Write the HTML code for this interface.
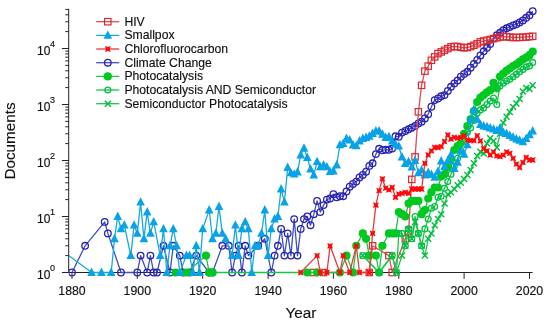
<!DOCTYPE html>
<html><head><meta charset="utf-8"><title>Documents per year</title>
<style>html,body{margin:0;padding:0;background:#fff}svg{display:block;filter:blur(0.4px)}</style></head>
<body>
<svg width="550" height="324" viewBox="0 0 550 324" font-family="Liberation Sans, Arial, sans-serif">
<rect width="550" height="324" fill="#fff"/>
<defs><clipPath id="cp"><rect x="68.7" y="0" width="482" height="280"/></clipPath></defs>
<g stroke="#222" stroke-width="1" fill="none">
<path d="M68.7,8.9V272.5"/><path d="M68.7,272.5H532.6"/>
<path d="M72.0,272.5v6.3"/><path d="M137.3,272.5v6.3"/><path d="M202.7,272.5v6.3"/><path d="M268.1,272.5v6.3"/><path d="M333.4,272.5v6.3"/><path d="M398.8,272.5v6.3"/><path d="M464.1,272.5v6.3"/><path d="M529.5,272.5v6.3"/><path d="M68.7,272.5h-6.8"/><path d="M68.7,255.6h-3.4"/><path d="M68.7,245.8h-3.4"/><path d="M68.7,238.8h-3.4"/><path d="M68.7,233.4h-3.4"/><path d="M68.7,228.9h-3.4"/><path d="M68.7,225.2h-3.4"/><path d="M68.7,221.9h-3.4"/><path d="M68.7,219.1h-3.4"/><path d="M68.7,216.5h-6.8"/><path d="M68.7,199.6h-3.4"/><path d="M68.7,189.8h-3.4"/><path d="M68.7,182.8h-3.4"/><path d="M68.7,177.4h-3.4"/><path d="M68.7,172.9h-3.4"/><path d="M68.7,169.2h-3.4"/><path d="M68.7,165.9h-3.4"/><path d="M68.7,163.1h-3.4"/><path d="M68.7,160.5h-6.8"/><path d="M68.7,143.6h-3.4"/><path d="M68.7,133.8h-3.4"/><path d="M68.7,126.8h-3.4"/><path d="M68.7,121.4h-3.4"/><path d="M68.7,116.9h-3.4"/><path d="M68.7,113.2h-3.4"/><path d="M68.7,109.9h-3.4"/><path d="M68.7,107.1h-3.4"/><path d="M68.7,104.5h-6.8"/><path d="M68.7,87.6h-3.4"/><path d="M68.7,77.8h-3.4"/><path d="M68.7,70.8h-3.4"/><path d="M68.7,65.4h-3.4"/><path d="M68.7,60.9h-3.4"/><path d="M68.7,57.2h-3.4"/><path d="M68.7,53.9h-3.4"/><path d="M68.7,51.1h-3.4"/><path d="M68.7,48.5h-6.8"/><path d="M68.7,31.6h-3.4"/><path d="M68.7,21.8h-3.4"/><path d="M68.7,14.8h-3.4"/><path d="M68.7,9.4h-3.4"/></g>
<g font-size="12.3" fill="#111" stroke="#111" stroke-width="0.15" text-anchor="middle">
<text x="72.0" y="295.2">1880</text><text x="137.3" y="295.2">1900</text><text x="202.7" y="295.2">1920</text><text x="268.1" y="295.2">1940</text><text x="333.4" y="295.2">1960</text><text x="398.8" y="295.2">1980</text><text x="464.1" y="295.2">2000</text><text x="529.5" y="295.2">2020</text></g>
<g font-size="12" fill="#111" stroke="#111" stroke-width="0.15">
<text x="37" y="279.3">10<tspan dy="-8.6" dx="-0.3" font-size="9">0</tspan></text><text x="37" y="223.3">10<tspan dy="-8.6" dx="-0.3" font-size="9">1</tspan></text><text x="37" y="167.3">10<tspan dy="-8.6" dx="-0.3" font-size="9">2</tspan></text><text x="37" y="111.3">10<tspan dy="-8.6" dx="-0.3" font-size="9">3</tspan></text><text x="37" y="55.3">10<tspan dy="-8.6" dx="-0.3" font-size="9">4</tspan></text></g>
<text x="301" y="318" font-size="15.3" fill="#111" stroke="#111" stroke-width="0.15" text-anchor="middle">Year</text>
<text transform="translate(15.2,141) rotate(-90)" font-size="15.25" fill="#111" stroke="#111" stroke-width="0.15" text-anchor="middle">Documents</text>
<g clip-path="url(#cp)">
<polyline points="72.0,272.5 85.1,245.8 104.7,221.9 107.9,233.4 121.0,272.5 137.3,272.5 140.6,255.6 147.2,272.5 150.4,255.6 153.7,272.5 157.0,272.5 163.5,245.8 170.0,272.5 173.3,245.8 179.8,255.6 183.1,272.5 189.6,272.5 196.2,255.6 209.2,272.5 212.5,272.5 222.3,245.8 228.8,245.8 232.1,272.5 235.4,255.6 238.6,245.8 241.9,272.5 245.2,245.8 248.4,255.6 258.2,245.8 264.8,238.8 271.3,272.5 274.6,255.6 277.9,245.8 281.1,228.9 284.4,255.6 287.7,233.4 290.9,255.6 294.2,219.1 297.5,255.6 300.7,228.9 304.0,219.1 307.3,216.5 310.5,225.2 313.8,214.2 317.1,200.9 320.3,212.1 323.6,205.1 326.9,199.6 330.1,198.5 333.4,194.2 336.7,197.3 339.9,196.2 343.2,196.2 346.5,191.5 349.7,186.7 353.0,184.0 356.3,181.6 359.5,177.4 362.8,175.0 366.1,171.7 369.3,165.9 372.6,163.3 375.9,154.1 379.1,148.8 382.4,150.2 385.7,149.8 388.9,149.8 392.2,148.5 395.5,136.3 398.8,136.8 402.0,132.6 405.3,131.0 408.6,129.3 411.8,127.7 415.1,125.9 418.4,123.4 421.6,121.8 424.9,118.4 428.2,114.2 431.4,106.7 434.7,100.1 438.0,98.5 441.2,96.3 444.5,95.1 447.8,90.9 451.0,86.8 454.3,83.4 457.6,80.5 460.8,76.7 464.1,74.0 467.4,71.8 470.6,67.7 473.9,63.9 477.2,59.9 480.4,55.5 483.7,51.3 487.0,47.8 490.2,44.1 493.5,38.6 496.8,35.3 500.0,32.8 503.3,30.3 506.6,28.3 509.8,27.0 513.1,25.4 516.4,24.2 519.6,22.4 522.9,20.4 526.2,17.8 529.5,15.3 532.7,11.2" fill="none" stroke="#3c50c0" stroke-width="1.3" stroke-linejoin="round"/>
<circle cx="72.0" cy="272.5" r="3.3" fill="none" stroke="#2a22b4" stroke-width="1.3"/><circle cx="85.1" cy="245.8" r="3.3" fill="none" stroke="#2a22b4" stroke-width="1.3"/><circle cx="104.7" cy="221.9" r="3.3" fill="none" stroke="#2a22b4" stroke-width="1.3"/><circle cx="107.9" cy="233.4" r="3.3" fill="none" stroke="#2a22b4" stroke-width="1.3"/><circle cx="121.0" cy="272.5" r="3.3" fill="none" stroke="#2a22b4" stroke-width="1.3"/><circle cx="137.3" cy="272.5" r="3.3" fill="none" stroke="#2a22b4" stroke-width="1.3"/><circle cx="140.6" cy="255.6" r="3.3" fill="none" stroke="#2a22b4" stroke-width="1.3"/><circle cx="147.2" cy="272.5" r="3.3" fill="none" stroke="#2a22b4" stroke-width="1.3"/><circle cx="150.4" cy="255.6" r="3.3" fill="none" stroke="#2a22b4" stroke-width="1.3"/><circle cx="153.7" cy="272.5" r="3.3" fill="none" stroke="#2a22b4" stroke-width="1.3"/><circle cx="157.0" cy="272.5" r="3.3" fill="none" stroke="#2a22b4" stroke-width="1.3"/><circle cx="163.5" cy="245.8" r="3.3" fill="none" stroke="#2a22b4" stroke-width="1.3"/><circle cx="170.0" cy="272.5" r="3.3" fill="none" stroke="#2a22b4" stroke-width="1.3"/><circle cx="173.3" cy="245.8" r="3.3" fill="none" stroke="#2a22b4" stroke-width="1.3"/><circle cx="179.8" cy="255.6" r="3.3" fill="none" stroke="#2a22b4" stroke-width="1.3"/><circle cx="183.1" cy="272.5" r="3.3" fill="none" stroke="#2a22b4" stroke-width="1.3"/><circle cx="189.6" cy="272.5" r="3.3" fill="none" stroke="#2a22b4" stroke-width="1.3"/><circle cx="196.2" cy="255.6" r="3.3" fill="none" stroke="#2a22b4" stroke-width="1.3"/><circle cx="209.2" cy="272.5" r="3.3" fill="none" stroke="#2a22b4" stroke-width="1.3"/><circle cx="212.5" cy="272.5" r="3.3" fill="none" stroke="#2a22b4" stroke-width="1.3"/><circle cx="222.3" cy="245.8" r="3.3" fill="none" stroke="#2a22b4" stroke-width="1.3"/><circle cx="228.8" cy="245.8" r="3.3" fill="none" stroke="#2a22b4" stroke-width="1.3"/><circle cx="232.1" cy="272.5" r="3.3" fill="none" stroke="#2a22b4" stroke-width="1.3"/><circle cx="235.4" cy="255.6" r="3.3" fill="none" stroke="#2a22b4" stroke-width="1.3"/><circle cx="238.6" cy="245.8" r="3.3" fill="none" stroke="#2a22b4" stroke-width="1.3"/><circle cx="241.9" cy="272.5" r="3.3" fill="none" stroke="#2a22b4" stroke-width="1.3"/><circle cx="245.2" cy="245.8" r="3.3" fill="none" stroke="#2a22b4" stroke-width="1.3"/><circle cx="248.4" cy="255.6" r="3.3" fill="none" stroke="#2a22b4" stroke-width="1.3"/><circle cx="258.2" cy="245.8" r="3.3" fill="none" stroke="#2a22b4" stroke-width="1.3"/><circle cx="264.8" cy="238.8" r="3.3" fill="none" stroke="#2a22b4" stroke-width="1.3"/><circle cx="271.3" cy="272.5" r="3.3" fill="none" stroke="#2a22b4" stroke-width="1.3"/><circle cx="274.6" cy="255.6" r="3.3" fill="none" stroke="#2a22b4" stroke-width="1.3"/><circle cx="277.9" cy="245.8" r="3.3" fill="none" stroke="#2a22b4" stroke-width="1.3"/><circle cx="281.1" cy="228.9" r="3.3" fill="none" stroke="#2a22b4" stroke-width="1.3"/><circle cx="284.4" cy="255.6" r="3.3" fill="none" stroke="#2a22b4" stroke-width="1.3"/><circle cx="287.7" cy="233.4" r="3.3" fill="none" stroke="#2a22b4" stroke-width="1.3"/><circle cx="290.9" cy="255.6" r="3.3" fill="none" stroke="#2a22b4" stroke-width="1.3"/><circle cx="294.2" cy="219.1" r="3.3" fill="none" stroke="#2a22b4" stroke-width="1.3"/><circle cx="297.5" cy="255.6" r="3.3" fill="none" stroke="#2a22b4" stroke-width="1.3"/><circle cx="300.7" cy="228.9" r="3.3" fill="none" stroke="#2a22b4" stroke-width="1.3"/><circle cx="304.0" cy="219.1" r="3.3" fill="none" stroke="#2a22b4" stroke-width="1.3"/><circle cx="307.3" cy="216.5" r="3.3" fill="none" stroke="#2a22b4" stroke-width="1.3"/><circle cx="310.5" cy="225.2" r="3.3" fill="none" stroke="#2a22b4" stroke-width="1.3"/><circle cx="313.8" cy="214.2" r="3.3" fill="none" stroke="#2a22b4" stroke-width="1.3"/><circle cx="317.1" cy="200.9" r="3.3" fill="none" stroke="#2a22b4" stroke-width="1.3"/><circle cx="320.3" cy="212.1" r="3.3" fill="none" stroke="#2a22b4" stroke-width="1.3"/><circle cx="323.6" cy="205.1" r="3.3" fill="none" stroke="#2a22b4" stroke-width="1.3"/><circle cx="326.9" cy="199.6" r="3.3" fill="none" stroke="#2a22b4" stroke-width="1.3"/><circle cx="330.1" cy="198.5" r="3.3" fill="none" stroke="#2a22b4" stroke-width="1.3"/><circle cx="333.4" cy="194.2" r="3.3" fill="none" stroke="#2a22b4" stroke-width="1.3"/><circle cx="336.7" cy="197.3" r="3.3" fill="none" stroke="#2a22b4" stroke-width="1.3"/><circle cx="339.9" cy="196.2" r="3.3" fill="none" stroke="#2a22b4" stroke-width="1.3"/><circle cx="343.2" cy="196.2" r="3.3" fill="none" stroke="#2a22b4" stroke-width="1.3"/><circle cx="346.5" cy="191.5" r="3.3" fill="none" stroke="#2a22b4" stroke-width="1.3"/><circle cx="349.7" cy="186.7" r="3.3" fill="none" stroke="#2a22b4" stroke-width="1.3"/><circle cx="353.0" cy="184.0" r="3.3" fill="none" stroke="#2a22b4" stroke-width="1.3"/><circle cx="356.3" cy="181.6" r="3.3" fill="none" stroke="#2a22b4" stroke-width="1.3"/><circle cx="359.5" cy="177.4" r="3.3" fill="none" stroke="#2a22b4" stroke-width="1.3"/><circle cx="362.8" cy="175.0" r="3.3" fill="none" stroke="#2a22b4" stroke-width="1.3"/><circle cx="366.1" cy="171.7" r="3.3" fill="none" stroke="#2a22b4" stroke-width="1.3"/><circle cx="369.3" cy="165.9" r="3.3" fill="none" stroke="#2a22b4" stroke-width="1.3"/><circle cx="372.6" cy="163.3" r="3.3" fill="none" stroke="#2a22b4" stroke-width="1.3"/><circle cx="375.9" cy="154.1" r="3.3" fill="none" stroke="#2a22b4" stroke-width="1.3"/><circle cx="379.1" cy="148.8" r="3.3" fill="none" stroke="#2a22b4" stroke-width="1.3"/><circle cx="382.4" cy="150.2" r="3.3" fill="none" stroke="#2a22b4" stroke-width="1.3"/><circle cx="385.7" cy="149.8" r="3.3" fill="none" stroke="#2a22b4" stroke-width="1.3"/><circle cx="388.9" cy="149.8" r="3.3" fill="none" stroke="#2a22b4" stroke-width="1.3"/><circle cx="392.2" cy="148.5" r="3.3" fill="none" stroke="#2a22b4" stroke-width="1.3"/><circle cx="395.5" cy="136.3" r="3.3" fill="none" stroke="#2a22b4" stroke-width="1.3"/><circle cx="398.8" cy="136.8" r="3.3" fill="none" stroke="#2a22b4" stroke-width="1.3"/><circle cx="402.0" cy="132.6" r="3.3" fill="none" stroke="#2a22b4" stroke-width="1.3"/><circle cx="405.3" cy="131.0" r="3.3" fill="none" stroke="#2a22b4" stroke-width="1.3"/><circle cx="408.6" cy="129.3" r="3.3" fill="none" stroke="#2a22b4" stroke-width="1.3"/><circle cx="411.8" cy="127.7" r="3.3" fill="none" stroke="#2a22b4" stroke-width="1.3"/><circle cx="415.1" cy="125.9" r="3.3" fill="none" stroke="#2a22b4" stroke-width="1.3"/><circle cx="418.4" cy="123.4" r="3.3" fill="none" stroke="#2a22b4" stroke-width="1.3"/><circle cx="421.6" cy="121.8" r="3.3" fill="none" stroke="#2a22b4" stroke-width="1.3"/><circle cx="424.9" cy="118.4" r="3.3" fill="none" stroke="#2a22b4" stroke-width="1.3"/><circle cx="428.2" cy="114.2" r="3.3" fill="none" stroke="#2a22b4" stroke-width="1.3"/><circle cx="431.4" cy="106.7" r="3.3" fill="none" stroke="#2a22b4" stroke-width="1.3"/><circle cx="434.7" cy="100.1" r="3.3" fill="none" stroke="#2a22b4" stroke-width="1.3"/><circle cx="438.0" cy="98.5" r="3.3" fill="none" stroke="#2a22b4" stroke-width="1.3"/><circle cx="441.2" cy="96.3" r="3.3" fill="none" stroke="#2a22b4" stroke-width="1.3"/><circle cx="444.5" cy="95.1" r="3.3" fill="none" stroke="#2a22b4" stroke-width="1.3"/><circle cx="447.8" cy="90.9" r="3.3" fill="none" stroke="#2a22b4" stroke-width="1.3"/><circle cx="451.0" cy="86.8" r="3.3" fill="none" stroke="#2a22b4" stroke-width="1.3"/><circle cx="454.3" cy="83.4" r="3.3" fill="none" stroke="#2a22b4" stroke-width="1.3"/><circle cx="457.6" cy="80.5" r="3.3" fill="none" stroke="#2a22b4" stroke-width="1.3"/><circle cx="460.8" cy="76.7" r="3.3" fill="none" stroke="#2a22b4" stroke-width="1.3"/><circle cx="464.1" cy="74.0" r="3.3" fill="none" stroke="#2a22b4" stroke-width="1.3"/><circle cx="467.4" cy="71.8" r="3.3" fill="none" stroke="#2a22b4" stroke-width="1.3"/><circle cx="470.6" cy="67.7" r="3.3" fill="none" stroke="#2a22b4" stroke-width="1.3"/><circle cx="473.9" cy="63.9" r="3.3" fill="none" stroke="#2a22b4" stroke-width="1.3"/><circle cx="477.2" cy="59.9" r="3.3" fill="none" stroke="#2a22b4" stroke-width="1.3"/><circle cx="480.4" cy="55.5" r="3.3" fill="none" stroke="#2a22b4" stroke-width="1.3"/><circle cx="483.7" cy="51.3" r="3.3" fill="none" stroke="#2a22b4" stroke-width="1.3"/><circle cx="487.0" cy="47.8" r="3.3" fill="none" stroke="#2a22b4" stroke-width="1.3"/><circle cx="490.2" cy="44.1" r="3.3" fill="none" stroke="#2a22b4" stroke-width="1.3"/><circle cx="493.5" cy="38.6" r="3.3" fill="none" stroke="#2a22b4" stroke-width="1.3"/><circle cx="496.8" cy="35.3" r="3.3" fill="none" stroke="#2a22b4" stroke-width="1.3"/><circle cx="500.0" cy="32.8" r="3.3" fill="none" stroke="#2a22b4" stroke-width="1.3"/><circle cx="503.3" cy="30.3" r="3.3" fill="none" stroke="#2a22b4" stroke-width="1.3"/><circle cx="506.6" cy="28.3" r="3.3" fill="none" stroke="#2a22b4" stroke-width="1.3"/><circle cx="509.8" cy="27.0" r="3.3" fill="none" stroke="#2a22b4" stroke-width="1.3"/><circle cx="513.1" cy="25.4" r="3.3" fill="none" stroke="#2a22b4" stroke-width="1.3"/><circle cx="516.4" cy="24.2" r="3.3" fill="none" stroke="#2a22b4" stroke-width="1.3"/><circle cx="519.6" cy="22.4" r="3.3" fill="none" stroke="#2a22b4" stroke-width="1.3"/><circle cx="522.9" cy="20.4" r="3.3" fill="none" stroke="#2a22b4" stroke-width="1.3"/><circle cx="526.2" cy="17.8" r="3.3" fill="none" stroke="#2a22b4" stroke-width="1.3"/><circle cx="529.5" cy="15.3" r="3.3" fill="none" stroke="#2a22b4" stroke-width="1.3"/><circle cx="532.7" cy="11.2" r="3.3" fill="none" stroke="#2a22b4" stroke-width="1.3"/>
<polyline points="313.8,272.5 323.6,272.5 369.3,272.5 372.6,245.8 388.9,255.6 392.2,272.5 405.3,238.8 408.6,231.0 411.8,179.4 415.1,156.9 418.4,111.8 421.6,85.3 424.9,71.1 428.2,66.1 431.4,60.3 434.7,56.9 438.0,53.6 441.2,51.9 444.5,50.3 447.8,48.6 451.0,46.9 454.3,46.4 457.6,46.6 460.8,47.3 464.1,47.8 467.4,47.5 470.6,46.6 473.9,45.3 477.2,43.7 480.4,41.9 483.7,41.0 487.0,40.3 490.2,39.5 493.5,38.6 496.8,37.8 500.0,37.0 503.3,36.8 506.6,36.6 509.8,37.1 513.1,37.5 516.4,37.5 519.6,37.4 522.9,37.2 526.2,37.0 529.5,36.6 532.7,36.3" fill="none" stroke="#dc4c54" stroke-width="1.3" stroke-linejoin="round"/>
<rect x="310.6" y="269.3" width="6.4" height="6.4" fill="none" stroke="#dc2832" stroke-width="1.2"/><rect x="320.4" y="269.3" width="6.4" height="6.4" fill="none" stroke="#dc2832" stroke-width="1.2"/><rect x="366.1" y="269.3" width="6.4" height="6.4" fill="none" stroke="#dc2832" stroke-width="1.2"/><rect x="369.4" y="242.6" width="6.4" height="6.4" fill="none" stroke="#dc2832" stroke-width="1.2"/><rect x="385.7" y="252.4" width="6.4" height="6.4" fill="none" stroke="#dc2832" stroke-width="1.2"/><rect x="389.0" y="269.3" width="6.4" height="6.4" fill="none" stroke="#dc2832" stroke-width="1.2"/><rect x="402.1" y="235.6" width="6.4" height="6.4" fill="none" stroke="#dc2832" stroke-width="1.2"/><rect x="405.4" y="227.8" width="6.4" height="6.4" fill="none" stroke="#dc2832" stroke-width="1.2"/><rect x="408.6" y="176.2" width="6.4" height="6.4" fill="none" stroke="#dc2832" stroke-width="1.2"/><rect x="411.9" y="153.7" width="6.4" height="6.4" fill="none" stroke="#dc2832" stroke-width="1.2"/><rect x="415.2" y="108.6" width="6.4" height="6.4" fill="none" stroke="#dc2832" stroke-width="1.2"/><rect x="418.4" y="82.1" width="6.4" height="6.4" fill="none" stroke="#dc2832" stroke-width="1.2"/><rect x="421.7" y="67.9" width="6.4" height="6.4" fill="none" stroke="#dc2832" stroke-width="1.2"/><rect x="425.0" y="62.9" width="6.4" height="6.4" fill="none" stroke="#dc2832" stroke-width="1.2"/><rect x="428.2" y="57.1" width="6.4" height="6.4" fill="none" stroke="#dc2832" stroke-width="1.2"/><rect x="431.5" y="53.7" width="6.4" height="6.4" fill="none" stroke="#dc2832" stroke-width="1.2"/><rect x="434.8" y="50.4" width="6.4" height="6.4" fill="none" stroke="#dc2832" stroke-width="1.2"/><rect x="438.0" y="48.7" width="6.4" height="6.4" fill="none" stroke="#dc2832" stroke-width="1.2"/><rect x="441.3" y="47.1" width="6.4" height="6.4" fill="none" stroke="#dc2832" stroke-width="1.2"/><rect x="444.6" y="45.4" width="6.4" height="6.4" fill="none" stroke="#dc2832" stroke-width="1.2"/><rect x="447.8" y="43.7" width="6.4" height="6.4" fill="none" stroke="#dc2832" stroke-width="1.2"/><rect x="451.1" y="43.2" width="6.4" height="6.4" fill="none" stroke="#dc2832" stroke-width="1.2"/><rect x="454.4" y="43.4" width="6.4" height="6.4" fill="none" stroke="#dc2832" stroke-width="1.2"/><rect x="457.6" y="44.1" width="6.4" height="6.4" fill="none" stroke="#dc2832" stroke-width="1.2"/><rect x="460.9" y="44.6" width="6.4" height="6.4" fill="none" stroke="#dc2832" stroke-width="1.2"/><rect x="464.2" y="44.3" width="6.4" height="6.4" fill="none" stroke="#dc2832" stroke-width="1.2"/><rect x="467.4" y="43.4" width="6.4" height="6.4" fill="none" stroke="#dc2832" stroke-width="1.2"/><rect x="470.7" y="42.1" width="6.4" height="6.4" fill="none" stroke="#dc2832" stroke-width="1.2"/><rect x="474.0" y="40.5" width="6.4" height="6.4" fill="none" stroke="#dc2832" stroke-width="1.2"/><rect x="477.2" y="38.7" width="6.4" height="6.4" fill="none" stroke="#dc2832" stroke-width="1.2"/><rect x="480.5" y="37.8" width="6.4" height="6.4" fill="none" stroke="#dc2832" stroke-width="1.2"/><rect x="483.8" y="37.1" width="6.4" height="6.4" fill="none" stroke="#dc2832" stroke-width="1.2"/><rect x="487.0" y="36.3" width="6.4" height="6.4" fill="none" stroke="#dc2832" stroke-width="1.2"/><rect x="490.3" y="35.4" width="6.4" height="6.4" fill="none" stroke="#dc2832" stroke-width="1.2"/><rect x="493.6" y="34.6" width="6.4" height="6.4" fill="none" stroke="#dc2832" stroke-width="1.2"/><rect x="496.8" y="33.8" width="6.4" height="6.4" fill="none" stroke="#dc2832" stroke-width="1.2"/><rect x="500.1" y="33.6" width="6.4" height="6.4" fill="none" stroke="#dc2832" stroke-width="1.2"/><rect x="503.4" y="33.4" width="6.4" height="6.4" fill="none" stroke="#dc2832" stroke-width="1.2"/><rect x="506.6" y="33.9" width="6.4" height="6.4" fill="none" stroke="#dc2832" stroke-width="1.2"/><rect x="509.9" y="34.3" width="6.4" height="6.4" fill="none" stroke="#dc2832" stroke-width="1.2"/><rect x="513.2" y="34.3" width="6.4" height="6.4" fill="none" stroke="#dc2832" stroke-width="1.2"/><rect x="516.4" y="34.2" width="6.4" height="6.4" fill="none" stroke="#dc2832" stroke-width="1.2"/><rect x="519.7" y="34.0" width="6.4" height="6.4" fill="none" stroke="#dc2832" stroke-width="1.2"/><rect x="523.0" y="33.8" width="6.4" height="6.4" fill="none" stroke="#dc2832" stroke-width="1.2"/><rect x="526.2" y="33.4" width="6.4" height="6.4" fill="none" stroke="#dc2832" stroke-width="1.2"/><rect x="529.5" y="33.1" width="6.4" height="6.4" fill="none" stroke="#dc2832" stroke-width="1.2"/>
<polyline points="175.6,272.5 186.4,272.5 206.0,255.6 209.2,272.5 212.5,272.5 307.3,272.5 317.1,272.5 339.9,272.5 346.5,255.6 353.0,272.5 356.3,245.8 362.8,233.4 366.1,238.8 369.3,255.6 375.9,255.6 379.1,272.5 382.4,245.8 388.9,233.4 392.2,233.4 395.5,233.4 398.8,212.1 402.0,214.2 405.3,216.5 408.6,203.6 411.8,200.9 415.1,200.9 418.4,200.9 421.6,214.2 424.9,210.1 428.2,198.5 431.4,192.3 434.7,187.5 438.0,187.5 441.2,176.4 444.5,174.2 447.8,167.5 451.0,159.3 454.3,150.0 457.6,146.2 460.8,143.3 464.1,133.8 467.4,126.2 470.6,119.4 473.9,111.2 477.2,102.0 480.4,97.7 483.7,95.0 487.0,92.3 490.2,90.2 493.5,82.8 496.8,88.3 500.0,76.6 503.3,73.6 506.6,70.7 509.8,68.5 513.1,66.0 516.4,64.4 519.6,61.9 522.9,59.4 526.2,57.7 529.5,55.2 532.7,51.6" fill="none" stroke="#14c846" stroke-width="1.3" stroke-linejoin="round"/>
<circle cx="175.6" cy="272.5" r="4.1" fill="#00c81e"/><circle cx="186.4" cy="272.5" r="4.1" fill="#00c81e"/><circle cx="206.0" cy="255.6" r="4.1" fill="#00c81e"/><circle cx="209.2" cy="272.5" r="4.1" fill="#00c81e"/><circle cx="212.5" cy="272.5" r="4.1" fill="#00c81e"/><circle cx="307.3" cy="272.5" r="4.1" fill="#00c81e"/><circle cx="317.1" cy="272.5" r="4.1" fill="#00c81e"/><circle cx="339.9" cy="272.5" r="4.1" fill="#00c81e"/><circle cx="346.5" cy="255.6" r="4.1" fill="#00c81e"/><circle cx="353.0" cy="272.5" r="4.1" fill="#00c81e"/><circle cx="356.3" cy="245.8" r="4.1" fill="#00c81e"/><circle cx="362.8" cy="233.4" r="4.1" fill="#00c81e"/><circle cx="366.1" cy="238.8" r="4.1" fill="#00c81e"/><circle cx="369.3" cy="255.6" r="4.1" fill="#00c81e"/><circle cx="375.9" cy="255.6" r="4.1" fill="#00c81e"/><circle cx="379.1" cy="272.5" r="4.1" fill="#00c81e"/><circle cx="382.4" cy="245.8" r="4.1" fill="#00c81e"/><circle cx="388.9" cy="233.4" r="4.1" fill="#00c81e"/><circle cx="392.2" cy="233.4" r="4.1" fill="#00c81e"/><circle cx="395.5" cy="233.4" r="4.1" fill="#00c81e"/><circle cx="398.8" cy="212.1" r="4.1" fill="#00c81e"/><circle cx="402.0" cy="214.2" r="4.1" fill="#00c81e"/><circle cx="405.3" cy="216.5" r="4.1" fill="#00c81e"/><circle cx="408.6" cy="203.6" r="4.1" fill="#00c81e"/><circle cx="411.8" cy="200.9" r="4.1" fill="#00c81e"/><circle cx="415.1" cy="200.9" r="4.1" fill="#00c81e"/><circle cx="418.4" cy="200.9" r="4.1" fill="#00c81e"/><circle cx="421.6" cy="214.2" r="4.1" fill="#00c81e"/><circle cx="424.9" cy="210.1" r="4.1" fill="#00c81e"/><circle cx="428.2" cy="198.5" r="4.1" fill="#00c81e"/><circle cx="431.4" cy="192.3" r="4.1" fill="#00c81e"/><circle cx="434.7" cy="187.5" r="4.1" fill="#00c81e"/><circle cx="438.0" cy="187.5" r="4.1" fill="#00c81e"/><circle cx="441.2" cy="176.4" r="4.1" fill="#00c81e"/><circle cx="444.5" cy="174.2" r="4.1" fill="#00c81e"/><circle cx="447.8" cy="167.5" r="4.1" fill="#00c81e"/><circle cx="451.0" cy="159.3" r="4.1" fill="#00c81e"/><circle cx="454.3" cy="150.0" r="4.1" fill="#00c81e"/><circle cx="457.6" cy="146.2" r="4.1" fill="#00c81e"/><circle cx="460.8" cy="143.3" r="4.1" fill="#00c81e"/><circle cx="464.1" cy="133.8" r="4.1" fill="#00c81e"/><circle cx="467.4" cy="126.2" r="4.1" fill="#00c81e"/><circle cx="470.6" cy="119.4" r="4.1" fill="#00c81e"/><circle cx="473.9" cy="111.2" r="4.1" fill="#00c81e"/><circle cx="477.2" cy="102.0" r="4.1" fill="#00c81e"/><circle cx="480.4" cy="97.7" r="4.1" fill="#00c81e"/><circle cx="483.7" cy="95.0" r="4.1" fill="#00c81e"/><circle cx="487.0" cy="92.3" r="4.1" fill="#00c81e"/><circle cx="490.2" cy="90.2" r="4.1" fill="#00c81e"/><circle cx="493.5" cy="82.8" r="4.1" fill="#00c81e"/><circle cx="496.8" cy="88.3" r="4.1" fill="#00c81e"/><circle cx="500.0" cy="76.6" r="4.1" fill="#00c81e"/><circle cx="503.3" cy="73.6" r="4.1" fill="#00c81e"/><circle cx="506.6" cy="70.7" r="4.1" fill="#00c81e"/><circle cx="509.8" cy="68.5" r="4.1" fill="#00c81e"/><circle cx="513.1" cy="66.0" r="4.1" fill="#00c81e"/><circle cx="516.4" cy="64.4" r="4.1" fill="#00c81e"/><circle cx="519.6" cy="61.9" r="4.1" fill="#00c81e"/><circle cx="522.9" cy="59.4" r="4.1" fill="#00c81e"/><circle cx="526.2" cy="57.7" r="4.1" fill="#00c81e"/><circle cx="529.5" cy="55.2" r="4.1" fill="#00c81e"/><circle cx="532.7" cy="51.6" r="4.1" fill="#00c81e"/>
<polyline points="362.8,255.6 379.1,272.5 392.2,255.6 396.5,272.5 398.8,233.4 402.0,233.4 405.3,245.8 408.6,228.9 411.8,238.8 415.1,216.5 418.4,233.4 421.6,245.8 424.9,228.9 428.2,219.1 431.4,208.3 434.7,206.6 438.0,197.3 441.2,196.2 444.5,188.2 447.8,181.6 451.0,174.2 454.3,165.9 457.6,158.2 460.8,150.6 464.1,141.3 467.4,132.2 470.6,128.0 473.9,120.4 477.2,113.2 480.4,109.9 483.7,107.9 487.0,104.5 490.2,101.1 493.5,98.1 496.8,104.5 500.0,85.9 503.3,83.2 506.6,81.0 509.8,79.3 513.1,76.8 516.4,74.4 519.6,71.8 522.9,69.4 526.2,66.9 529.5,66.0 532.7,62.4" fill="none" stroke="#14c846" stroke-width="1.3" stroke-linejoin="round"/>
<circle cx="362.8" cy="255.6" r="2.9" fill="none" stroke="#00c040" stroke-width="1.3"/><circle cx="379.1" cy="272.5" r="2.9" fill="none" stroke="#00c040" stroke-width="1.3"/><circle cx="392.2" cy="255.6" r="2.9" fill="none" stroke="#00c040" stroke-width="1.3"/><circle cx="396.5" cy="272.5" r="2.9" fill="none" stroke="#00c040" stroke-width="1.3"/><circle cx="398.8" cy="233.4" r="2.9" fill="none" stroke="#00c040" stroke-width="1.3"/><circle cx="402.0" cy="233.4" r="2.9" fill="none" stroke="#00c040" stroke-width="1.3"/><circle cx="405.3" cy="245.8" r="2.9" fill="none" stroke="#00c040" stroke-width="1.3"/><circle cx="408.6" cy="228.9" r="2.9" fill="none" stroke="#00c040" stroke-width="1.3"/><circle cx="411.8" cy="238.8" r="2.9" fill="none" stroke="#00c040" stroke-width="1.3"/><circle cx="415.1" cy="216.5" r="2.9" fill="none" stroke="#00c040" stroke-width="1.3"/><circle cx="418.4" cy="233.4" r="2.9" fill="none" stroke="#00c040" stroke-width="1.3"/><circle cx="421.6" cy="245.8" r="2.9" fill="none" stroke="#00c040" stroke-width="1.3"/><circle cx="424.9" cy="228.9" r="2.9" fill="none" stroke="#00c040" stroke-width="1.3"/><circle cx="428.2" cy="219.1" r="2.9" fill="none" stroke="#00c040" stroke-width="1.3"/><circle cx="431.4" cy="208.3" r="2.9" fill="none" stroke="#00c040" stroke-width="1.3"/><circle cx="434.7" cy="206.6" r="2.9" fill="none" stroke="#00c040" stroke-width="1.3"/><circle cx="438.0" cy="197.3" r="2.9" fill="none" stroke="#00c040" stroke-width="1.3"/><circle cx="441.2" cy="196.2" r="2.9" fill="none" stroke="#00c040" stroke-width="1.3"/><circle cx="444.5" cy="188.2" r="2.9" fill="none" stroke="#00c040" stroke-width="1.3"/><circle cx="447.8" cy="181.6" r="2.9" fill="none" stroke="#00c040" stroke-width="1.3"/><circle cx="451.0" cy="174.2" r="2.9" fill="none" stroke="#00c040" stroke-width="1.3"/><circle cx="454.3" cy="165.9" r="2.9" fill="none" stroke="#00c040" stroke-width="1.3"/><circle cx="457.6" cy="158.2" r="2.9" fill="none" stroke="#00c040" stroke-width="1.3"/><circle cx="460.8" cy="150.6" r="2.9" fill="none" stroke="#00c040" stroke-width="1.3"/><circle cx="464.1" cy="141.3" r="2.9" fill="none" stroke="#00c040" stroke-width="1.3"/><circle cx="467.4" cy="132.2" r="2.9" fill="none" stroke="#00c040" stroke-width="1.3"/><circle cx="470.6" cy="128.0" r="2.9" fill="none" stroke="#00c040" stroke-width="1.3"/><circle cx="473.9" cy="120.4" r="2.9" fill="none" stroke="#00c040" stroke-width="1.3"/><circle cx="477.2" cy="113.2" r="2.9" fill="none" stroke="#00c040" stroke-width="1.3"/><circle cx="480.4" cy="109.9" r="2.9" fill="none" stroke="#00c040" stroke-width="1.3"/><circle cx="483.7" cy="107.9" r="2.9" fill="none" stroke="#00c040" stroke-width="1.3"/><circle cx="487.0" cy="104.5" r="2.9" fill="none" stroke="#00c040" stroke-width="1.3"/><circle cx="490.2" cy="101.1" r="2.9" fill="none" stroke="#00c040" stroke-width="1.3"/><circle cx="493.5" cy="98.1" r="2.9" fill="none" stroke="#00c040" stroke-width="1.3"/><circle cx="496.8" cy="104.5" r="2.9" fill="none" stroke="#00c040" stroke-width="1.3"/><circle cx="500.0" cy="85.9" r="2.9" fill="none" stroke="#00c040" stroke-width="1.3"/><circle cx="503.3" cy="83.2" r="2.9" fill="none" stroke="#00c040" stroke-width="1.3"/><circle cx="506.6" cy="81.0" r="2.9" fill="none" stroke="#00c040" stroke-width="1.3"/><circle cx="509.8" cy="79.3" r="2.9" fill="none" stroke="#00c040" stroke-width="1.3"/><circle cx="513.1" cy="76.8" r="2.9" fill="none" stroke="#00c040" stroke-width="1.3"/><circle cx="516.4" cy="74.4" r="2.9" fill="none" stroke="#00c040" stroke-width="1.3"/><circle cx="519.6" cy="71.8" r="2.9" fill="none" stroke="#00c040" stroke-width="1.3"/><circle cx="522.9" cy="69.4" r="2.9" fill="none" stroke="#00c040" stroke-width="1.3"/><circle cx="526.2" cy="66.9" r="2.9" fill="none" stroke="#00c040" stroke-width="1.3"/><circle cx="529.5" cy="66.0" r="2.9" fill="none" stroke="#00c040" stroke-width="1.3"/><circle cx="532.7" cy="62.4" r="2.9" fill="none" stroke="#00c040" stroke-width="1.3"/>
<polyline points="362.8,255.6 379.1,272.5 392.2,255.6 396.5,272.5 402.0,255.6 405.3,245.8 408.6,228.9 411.8,238.8 415.1,221.9 418.4,233.4 421.6,245.8 424.9,255.6 428.2,238.8 431.4,233.4 434.7,225.2 438.0,219.1 441.2,214.2 444.5,203.6 447.8,194.2 451.0,192.3 454.3,189.0 457.6,185.3 460.8,182.8 464.1,178.9 467.4,175.0 470.6,169.9 473.9,163.3 477.2,155.9 480.4,151.8 483.7,153.4 487.0,143.4 490.2,138.2 493.5,140.9 496.8,147.6 500.0,133.8 503.3,122.7 506.6,116.8 509.8,111.9 513.1,106.9 516.4,103.5 519.6,99.1 522.9,91.4 526.2,88.1 529.5,89.1 532.7,85.2" fill="none" stroke="#14c846" stroke-width="1.3" stroke-linejoin="round"/>
<path d="M359.8,252.6L365.8,258.6M359.8,258.6L365.8,252.6" stroke="#00c040" stroke-width="1.45" fill="none"/><path d="M376.1,269.5L382.1,275.5M376.1,275.5L382.1,269.5" stroke="#00c040" stroke-width="1.45" fill="none"/><path d="M389.2,252.6L395.2,258.6M389.2,258.6L395.2,252.6" stroke="#00c040" stroke-width="1.45" fill="none"/><path d="M393.5,269.5L399.5,275.5M393.5,275.5L399.5,269.5" stroke="#00c040" stroke-width="1.45" fill="none"/><path d="M399.0,252.6L405.0,258.6M399.0,258.6L405.0,252.6" stroke="#00c040" stroke-width="1.45" fill="none"/><path d="M402.3,242.8L408.3,248.8M402.3,248.8L408.3,242.8" stroke="#00c040" stroke-width="1.45" fill="none"/><path d="M405.6,225.9L411.6,231.9M405.6,231.9L411.6,225.9" stroke="#00c040" stroke-width="1.45" fill="none"/><path d="M408.8,235.8L414.8,241.8M408.8,241.8L414.8,235.8" stroke="#00c040" stroke-width="1.45" fill="none"/><path d="M412.1,218.9L418.1,224.9M412.1,224.9L418.1,218.9" stroke="#00c040" stroke-width="1.45" fill="none"/><path d="M415.4,230.4L421.4,236.4M415.4,236.4L421.4,230.4" stroke="#00c040" stroke-width="1.45" fill="none"/><path d="M418.6,242.8L424.6,248.8M418.6,248.8L424.6,242.8" stroke="#00c040" stroke-width="1.45" fill="none"/><path d="M421.9,252.6L427.9,258.6M421.9,258.6L427.9,252.6" stroke="#00c040" stroke-width="1.45" fill="none"/><path d="M425.2,235.8L431.2,241.8M425.2,241.8L431.2,235.8" stroke="#00c040" stroke-width="1.45" fill="none"/><path d="M428.4,230.4L434.4,236.4M428.4,236.4L434.4,230.4" stroke="#00c040" stroke-width="1.45" fill="none"/><path d="M431.7,222.2L437.7,228.2M431.7,228.2L437.7,222.2" stroke="#00c040" stroke-width="1.45" fill="none"/><path d="M435.0,216.1L441.0,222.1M435.0,222.1L441.0,216.1" stroke="#00c040" stroke-width="1.45" fill="none"/><path d="M438.2,211.2L444.2,217.2M438.2,217.2L444.2,211.2" stroke="#00c040" stroke-width="1.45" fill="none"/><path d="M441.5,200.6L447.5,206.6M441.5,206.6L447.5,200.6" stroke="#00c040" stroke-width="1.45" fill="none"/><path d="M444.8,191.2L450.8,197.2M444.8,197.2L450.8,191.2" stroke="#00c040" stroke-width="1.45" fill="none"/><path d="M448.0,189.3L454.0,195.3M448.0,195.3L454.0,189.3" stroke="#00c040" stroke-width="1.45" fill="none"/><path d="M451.3,186.0L457.3,192.0M451.3,192.0L457.3,186.0" stroke="#00c040" stroke-width="1.45" fill="none"/><path d="M454.6,182.3L460.6,188.3M454.6,188.3L460.6,182.3" stroke="#00c040" stroke-width="1.45" fill="none"/><path d="M457.8,179.8L463.8,185.8M457.8,185.8L463.8,179.8" stroke="#00c040" stroke-width="1.45" fill="none"/><path d="M461.1,175.9L467.1,181.9M461.1,181.9L467.1,175.9" stroke="#00c040" stroke-width="1.45" fill="none"/><path d="M464.4,172.0L470.4,178.0M464.4,178.0L470.4,172.0" stroke="#00c040" stroke-width="1.45" fill="none"/><path d="M467.6,166.9L473.6,172.9M467.6,172.9L473.6,166.9" stroke="#00c040" stroke-width="1.45" fill="none"/><path d="M470.9,160.3L476.9,166.3M470.9,166.3L476.9,160.3" stroke="#00c040" stroke-width="1.45" fill="none"/><path d="M474.2,152.9L480.2,158.9M474.2,158.9L480.2,152.9" stroke="#00c040" stroke-width="1.45" fill="none"/><path d="M477.4,148.8L483.4,154.8M477.4,154.8L483.4,148.8" stroke="#00c040" stroke-width="1.45" fill="none"/><path d="M480.7,150.4L486.7,156.4M480.7,156.4L486.7,150.4" stroke="#00c040" stroke-width="1.45" fill="none"/><path d="M484.0,140.4L490.0,146.4M484.0,146.4L490.0,140.4" stroke="#00c040" stroke-width="1.45" fill="none"/><path d="M487.2,135.2L493.2,141.2M487.2,141.2L493.2,135.2" stroke="#00c040" stroke-width="1.45" fill="none"/><path d="M490.5,137.9L496.5,143.9M490.5,143.9L496.5,137.9" stroke="#00c040" stroke-width="1.45" fill="none"/><path d="M493.8,144.6L499.8,150.6M493.8,150.6L499.8,144.6" stroke="#00c040" stroke-width="1.45" fill="none"/><path d="M497.0,130.8L503.0,136.8M497.0,136.8L503.0,130.8" stroke="#00c040" stroke-width="1.45" fill="none"/><path d="M500.3,119.7L506.3,125.7M500.3,125.7L506.3,119.7" stroke="#00c040" stroke-width="1.45" fill="none"/><path d="M503.6,113.8L509.6,119.8M503.6,119.8L509.6,113.8" stroke="#00c040" stroke-width="1.45" fill="none"/><path d="M506.8,108.9L512.8,114.9M506.8,114.9L512.8,108.9" stroke="#00c040" stroke-width="1.45" fill="none"/><path d="M510.1,103.9L516.1,109.9M510.1,109.9L516.1,103.9" stroke="#00c040" stroke-width="1.45" fill="none"/><path d="M513.4,100.5L519.4,106.5M513.4,106.5L519.4,100.5" stroke="#00c040" stroke-width="1.45" fill="none"/><path d="M516.6,96.1L522.6,102.1M516.6,102.1L522.6,96.1" stroke="#00c040" stroke-width="1.45" fill="none"/><path d="M519.9,88.4L525.9,94.4M519.9,94.4L525.9,88.4" stroke="#00c040" stroke-width="1.45" fill="none"/><path d="M523.2,85.1L529.2,91.1M523.2,91.1L529.2,85.1" stroke="#00c040" stroke-width="1.45" fill="none"/><path d="M526.5,86.1L532.5,92.1M526.5,92.1L532.5,86.1" stroke="#00c040" stroke-width="1.45" fill="none"/><path d="M529.7,82.2L535.7,88.2M529.7,88.2L535.7,82.2" stroke="#00c040" stroke-width="1.45" fill="none"/>
<polyline points="55.7,245.8 91.6,272.5 101.4,272.5 111.2,272.5 114.5,238.8 117.7,216.5 121.0,228.9 124.3,225.2 130.8,255.6 134.1,225.2 137.3,233.4 140.6,202.2 143.9,238.8 147.2,212.1 150.4,233.4 153.7,221.9 160.2,255.6 163.5,228.9 166.8,272.5 170.0,245.8 173.3,228.9 176.6,245.8 179.8,272.5 186.4,255.6 189.6,255.6 192.9,272.5 196.2,245.8 199.4,272.5 202.7,228.9 209.2,210.1 212.5,238.8 215.8,233.4 219.0,206.6 222.3,233.4 225.6,238.8 232.1,255.6 235.4,225.2 238.6,255.6 241.9,228.9 245.2,221.9 248.4,228.9 251.7,272.5 255.0,245.8 258.2,245.8 261.5,233.4 264.8,210.1 268.1,255.6 271.3,228.9 274.6,219.1 277.9,216.5 281.1,189.0 284.4,202.2 287.7,167.5 290.9,172.9 294.2,174.2 297.5,172.1 300.7,155.1 304.0,148.3 307.3,157.5 310.5,169.2 313.8,175.0 317.1,161.7 320.3,166.9 323.6,165.0 326.9,166.9 330.1,171.7 333.4,171.0 336.7,165.0 339.9,144.9 343.2,143.6 346.5,138.5 349.7,140.1 353.0,145.1 356.3,145.9 359.5,141.0 362.8,138.5 366.1,137.6 369.3,136.3 372.6,133.5 375.9,131.0 379.1,131.0 382.4,134.3 385.7,137.6 388.9,136.8 392.2,141.0 395.5,144.3 398.8,146.2 402.0,157.1 405.3,163.6 408.6,161.7 411.8,167.2 415.1,160.5 418.4,172.9 421.6,170.2 424.9,175.0 428.2,172.5 431.4,174.6 434.7,177.4 438.0,171.4 441.2,161.0 444.5,166.5 447.8,160.5 451.0,154.5 454.3,168.5 457.6,162.3 460.8,151.1 464.1,154.3 467.4,144.9 470.6,119.3 473.9,109.6 477.2,119.3 480.4,124.5 483.7,126.1 487.0,126.8 490.2,128.0 493.5,129.2 496.8,130.5 500.0,128.0 503.3,132.3 506.6,133.5 509.8,135.5 513.1,137.3 516.4,139.1 519.6,140.3 522.9,141.9 526.2,138.5 529.5,134.8 532.7,131.1" fill="none" stroke="#14aadc" stroke-width="1.3" stroke-linejoin="round"/>
<path d="M55.7,240.8L60.0,249.2L51.4,249.2Z" fill="#08a2e8"/><path d="M91.6,267.5L95.9,275.9L87.3,275.9Z" fill="#08a2e8"/><path d="M101.4,267.5L105.7,275.9L97.1,275.9Z" fill="#08a2e8"/><path d="M111.2,267.5L115.5,275.9L106.9,275.9Z" fill="#08a2e8"/><path d="M114.5,233.8L118.8,242.2L110.2,242.2Z" fill="#08a2e8"/><path d="M117.7,211.5L122.0,219.9L113.4,219.9Z" fill="#08a2e8"/><path d="M121.0,223.9L125.3,232.3L116.7,232.3Z" fill="#08a2e8"/><path d="M124.3,220.2L128.6,228.6L120.0,228.6Z" fill="#08a2e8"/><path d="M130.8,250.6L135.1,259.0L126.5,259.0Z" fill="#08a2e8"/><path d="M134.1,220.2L138.4,228.6L129.8,228.6Z" fill="#08a2e8"/><path d="M137.3,228.4L141.7,236.8L133.0,236.8Z" fill="#08a2e8"/><path d="M140.6,197.2L144.9,205.6L136.3,205.6Z" fill="#08a2e8"/><path d="M143.9,233.8L148.2,242.2L139.6,242.2Z" fill="#08a2e8"/><path d="M147.2,207.1L151.5,215.5L142.9,215.5Z" fill="#08a2e8"/><path d="M150.4,228.4L154.7,236.8L146.1,236.8Z" fill="#08a2e8"/><path d="M153.7,216.9L158.0,225.3L149.4,225.3Z" fill="#08a2e8"/><path d="M160.2,250.6L164.5,259.0L155.9,259.0Z" fill="#08a2e8"/><path d="M163.5,223.9L167.8,232.3L159.2,232.3Z" fill="#08a2e8"/><path d="M166.8,267.5L171.1,275.9L162.5,275.9Z" fill="#08a2e8"/><path d="M170.0,240.8L174.3,249.2L165.7,249.2Z" fill="#08a2e8"/><path d="M173.3,223.9L177.6,232.3L169.0,232.3Z" fill="#08a2e8"/><path d="M176.6,240.8L180.9,249.2L172.3,249.2Z" fill="#08a2e8"/><path d="M179.8,267.5L184.1,275.9L175.5,275.9Z" fill="#08a2e8"/><path d="M186.4,250.6L190.7,259.0L182.1,259.0Z" fill="#08a2e8"/><path d="M189.6,250.6L193.9,259.0L185.3,259.0Z" fill="#08a2e8"/><path d="M192.9,267.5L197.2,275.9L188.6,275.9Z" fill="#08a2e8"/><path d="M196.2,240.8L200.5,249.2L191.9,249.2Z" fill="#08a2e8"/><path d="M199.4,267.5L203.7,275.9L195.1,275.9Z" fill="#08a2e8"/><path d="M202.7,223.9L207.0,232.3L198.4,232.3Z" fill="#08a2e8"/><path d="M209.2,205.1L213.5,213.5L204.9,213.5Z" fill="#08a2e8"/><path d="M212.5,233.8L216.8,242.2L208.2,242.2Z" fill="#08a2e8"/><path d="M215.8,228.4L220.1,236.8L211.5,236.8Z" fill="#08a2e8"/><path d="M219.0,201.6L223.3,210.0L214.7,210.0Z" fill="#08a2e8"/><path d="M222.3,228.4L226.6,236.8L218.0,236.8Z" fill="#08a2e8"/><path d="M225.6,233.8L229.9,242.2L221.3,242.2Z" fill="#08a2e8"/><path d="M232.1,250.6L236.4,259.0L227.8,259.0Z" fill="#08a2e8"/><path d="M235.4,220.2L239.7,228.6L231.1,228.6Z" fill="#08a2e8"/><path d="M238.6,250.6L242.9,259.0L234.3,259.0Z" fill="#08a2e8"/><path d="M241.9,223.9L246.2,232.3L237.6,232.3Z" fill="#08a2e8"/><path d="M245.2,216.9L249.5,225.3L240.9,225.3Z" fill="#08a2e8"/><path d="M248.4,223.9L252.7,232.3L244.1,232.3Z" fill="#08a2e8"/><path d="M251.7,267.5L256.0,275.9L247.4,275.9Z" fill="#08a2e8"/><path d="M255.0,240.8L259.3,249.2L250.7,249.2Z" fill="#08a2e8"/><path d="M258.2,240.8L262.5,249.2L253.9,249.2Z" fill="#08a2e8"/><path d="M261.5,228.4L265.8,236.8L257.2,236.8Z" fill="#08a2e8"/><path d="M264.8,205.1L269.1,213.5L260.5,213.5Z" fill="#08a2e8"/><path d="M268.1,250.6L272.4,259.0L263.8,259.0Z" fill="#08a2e8"/><path d="M271.3,223.9L275.6,232.3L267.0,232.3Z" fill="#08a2e8"/><path d="M274.6,214.1L278.9,222.5L270.3,222.5Z" fill="#08a2e8"/><path d="M277.9,211.5L282.2,219.9L273.6,219.9Z" fill="#08a2e8"/><path d="M281.1,184.0L285.4,192.4L276.8,192.4Z" fill="#08a2e8"/><path d="M284.4,197.2L288.7,205.6L280.1,205.6Z" fill="#08a2e8"/><path d="M287.7,162.5L292.0,170.9L283.4,170.9Z" fill="#08a2e8"/><path d="M290.9,167.9L295.2,176.3L286.6,176.3Z" fill="#08a2e8"/><path d="M294.2,169.2L298.5,177.6L289.9,177.6Z" fill="#08a2e8"/><path d="M297.5,167.1L301.8,175.5L293.2,175.5Z" fill="#08a2e8"/><path d="M300.7,150.1L305.0,158.5L296.4,158.5Z" fill="#08a2e8"/><path d="M304.0,143.3L308.3,151.7L299.7,151.7Z" fill="#08a2e8"/><path d="M307.3,152.5L311.6,160.9L303.0,160.9Z" fill="#08a2e8"/><path d="M310.5,164.2L314.8,172.6L306.2,172.6Z" fill="#08a2e8"/><path d="M313.8,170.0L318.1,178.4L309.5,178.4Z" fill="#08a2e8"/><path d="M317.1,156.7L321.4,165.1L312.8,165.1Z" fill="#08a2e8"/><path d="M320.3,161.9L324.6,170.3L316.0,170.3Z" fill="#08a2e8"/><path d="M323.6,160.0L327.9,168.4L319.3,168.4Z" fill="#08a2e8"/><path d="M326.9,161.9L331.2,170.3L322.6,170.3Z" fill="#08a2e8"/><path d="M330.1,166.7L334.4,175.1L325.8,175.1Z" fill="#08a2e8"/><path d="M333.4,166.0L337.7,174.4L329.1,174.4Z" fill="#08a2e8"/><path d="M336.7,160.0L341.0,168.4L332.4,168.4Z" fill="#08a2e8"/><path d="M339.9,139.9L344.2,148.3L335.6,148.3Z" fill="#08a2e8"/><path d="M343.2,138.6L347.5,147.0L338.9,147.0Z" fill="#08a2e8"/><path d="M346.5,133.5L350.8,141.9L342.2,141.9Z" fill="#08a2e8"/><path d="M349.7,135.1L354.0,143.5L345.4,143.5Z" fill="#08a2e8"/><path d="M353.0,140.1L357.3,148.5L348.7,148.5Z" fill="#08a2e8"/><path d="M356.3,140.9L360.6,149.3L352.0,149.3Z" fill="#08a2e8"/><path d="M359.5,136.0L363.8,144.4L355.2,144.4Z" fill="#08a2e8"/><path d="M362.8,133.5L367.1,141.9L358.5,141.9Z" fill="#08a2e8"/><path d="M366.1,132.6L370.4,141.0L361.8,141.0Z" fill="#08a2e8"/><path d="M369.3,131.3L373.6,139.7L365.0,139.7Z" fill="#08a2e8"/><path d="M372.6,128.5L376.9,136.9L368.3,136.9Z" fill="#08a2e8"/><path d="M375.9,126.0L380.2,134.4L371.6,134.4Z" fill="#08a2e8"/><path d="M379.1,126.0L383.4,134.4L374.8,134.4Z" fill="#08a2e8"/><path d="M382.4,129.3L386.7,137.7L378.1,137.7Z" fill="#08a2e8"/><path d="M385.7,132.6L390.0,141.0L381.4,141.0Z" fill="#08a2e8"/><path d="M388.9,131.8L393.2,140.2L384.6,140.2Z" fill="#08a2e8"/><path d="M392.2,136.0L396.5,144.4L387.9,144.4Z" fill="#08a2e8"/><path d="M395.5,139.3L399.8,147.7L391.2,147.7Z" fill="#08a2e8"/><path d="M398.8,141.2L403.1,149.6L394.4,149.6Z" fill="#08a2e8"/><path d="M402.0,152.1L406.3,160.5L397.7,160.5Z" fill="#08a2e8"/><path d="M405.3,158.6L409.6,167.0L401.0,167.0Z" fill="#08a2e8"/><path d="M408.6,156.7L412.9,165.1L404.3,165.1Z" fill="#08a2e8"/><path d="M411.8,162.2L416.1,170.6L407.5,170.6Z" fill="#08a2e8"/><path d="M415.1,155.5L419.4,163.9L410.8,163.9Z" fill="#08a2e8"/><path d="M418.4,167.9L422.7,176.3L414.1,176.3Z" fill="#08a2e8"/><path d="M421.6,165.2L425.9,173.6L417.3,173.6Z" fill="#08a2e8"/><path d="M424.9,170.0L429.2,178.4L420.6,178.4Z" fill="#08a2e8"/><path d="M428.2,167.5L432.5,175.9L423.9,175.9Z" fill="#08a2e8"/><path d="M431.4,169.6L435.7,178.0L427.1,178.0Z" fill="#08a2e8"/><path d="M434.7,172.4L439.0,180.8L430.4,180.8Z" fill="#08a2e8"/><path d="M438.0,166.4L442.3,174.8L433.7,174.8Z" fill="#08a2e8"/><path d="M441.2,156.0L445.5,164.4L436.9,164.4Z" fill="#08a2e8"/><path d="M444.5,161.5L448.8,169.9L440.2,169.9Z" fill="#08a2e8"/><path d="M447.8,155.5L452.1,163.9L443.5,163.9Z" fill="#08a2e8"/><path d="M451.0,149.5L455.3,157.9L446.7,157.9Z" fill="#08a2e8"/><path d="M454.3,163.5L458.6,171.9L450.0,171.9Z" fill="#08a2e8"/><path d="M457.6,157.3L461.9,165.7L453.3,165.7Z" fill="#08a2e8"/><path d="M460.8,146.1L465.1,154.5L456.5,154.5Z" fill="#08a2e8"/><path d="M464.1,149.3L468.4,157.7L459.8,157.7Z" fill="#08a2e8"/><path d="M467.4,139.9L471.7,148.3L463.1,148.3Z" fill="#08a2e8"/><path d="M470.6,114.3L474.9,122.7L466.3,122.7Z" fill="#08a2e8"/><path d="M473.9,104.6L478.2,113.0L469.6,113.0Z" fill="#08a2e8"/><path d="M477.2,114.3L481.5,122.7L472.9,122.7Z" fill="#08a2e8"/><path d="M480.4,119.5L484.7,127.9L476.1,127.9Z" fill="#08a2e8"/><path d="M483.7,121.1L488.0,129.5L479.4,129.5Z" fill="#08a2e8"/><path d="M487.0,121.8L491.3,130.2L482.7,130.2Z" fill="#08a2e8"/><path d="M490.2,123.0L494.5,131.4L485.9,131.4Z" fill="#08a2e8"/><path d="M493.5,124.2L497.8,132.6L489.2,132.6Z" fill="#08a2e8"/><path d="M496.8,125.5L501.1,133.9L492.5,133.9Z" fill="#08a2e8"/><path d="M500.0,123.0L504.3,131.4L495.7,131.4Z" fill="#08a2e8"/><path d="M503.3,127.3L507.6,135.7L499.0,135.7Z" fill="#08a2e8"/><path d="M506.6,128.5L510.9,136.9L502.3,136.9Z" fill="#08a2e8"/><path d="M509.8,130.5L514.1,138.9L505.5,138.9Z" fill="#08a2e8"/><path d="M513.1,132.3L517.4,140.7L508.8,140.7Z" fill="#08a2e8"/><path d="M516.4,134.1L520.7,142.5L512.1,142.5Z" fill="#08a2e8"/><path d="M519.6,135.3L523.9,143.7L515.3,143.7Z" fill="#08a2e8"/><path d="M522.9,136.9L527.2,145.3L518.6,145.3Z" fill="#08a2e8"/><path d="M526.2,133.5L530.5,141.9L521.9,141.9Z" fill="#08a2e8"/><path d="M529.5,129.8L533.8,138.2L525.2,138.2Z" fill="#08a2e8"/><path d="M532.7,126.1L537.0,134.5L528.4,134.5Z" fill="#08a2e8"/>
<polyline points="300.7,272.5 317.1,255.6 320.3,272.5 326.9,272.5 330.1,245.8 339.9,272.5 343.2,255.6 349.7,272.5 356.3,245.8 359.5,272.5 369.3,272.5 372.6,233.4 375.9,205.1 379.1,190.6 382.4,178.9 385.7,188.2 388.9,189.8 392.2,187.5 395.5,197.3 398.8,194.2 402.0,193.3 405.3,192.3 408.6,193.3 411.8,189.0 415.1,189.0 418.4,189.0 421.6,189.0 424.9,163.3 428.2,154.9 431.4,150.8 434.7,147.5 438.0,147.5 441.2,146.6 444.5,141.5 447.8,134.9 451.0,139.1 454.3,137.4 457.6,138.2 460.8,137.4 464.1,135.7 467.4,140.2 470.6,140.5 473.9,140.7 477.2,135.7 480.4,140.8 483.7,148.6 487.0,150.8 490.2,155.1 493.5,151.8 496.8,155.9 500.0,156.7 503.3,155.1 506.6,151.8 509.8,153.4 513.1,158.4 516.4,164.2 519.6,167.5 522.9,162.5 526.2,157.5 529.5,160.0 532.7,160.0" fill="none" stroke="#e43a3e" stroke-width="1.3" stroke-linejoin="round"/>
<path d="M297.8,269.6L300.7,270.6L303.6,269.6L302.6,272.5L303.6,275.4L300.7,274.4L297.8,275.4L298.8,272.5Z" fill="#ff0a0a"/><path d="M314.2,252.7L317.1,253.7L320.0,252.7L319.0,255.6L320.0,258.5L317.1,257.5L314.2,258.5L315.2,255.6Z" fill="#ff0a0a"/><path d="M317.4,269.6L320.3,270.6L323.2,269.6L322.2,272.5L323.2,275.4L320.3,274.4L317.4,275.4L318.4,272.5Z" fill="#ff0a0a"/><path d="M324.0,269.6L326.9,270.6L329.8,269.6L328.8,272.5L329.8,275.4L326.9,274.4L324.0,275.4L325.0,272.5Z" fill="#ff0a0a"/><path d="M327.2,242.9L330.1,243.9L333.0,242.9L332.0,245.8L333.0,248.7L330.1,247.7L327.2,248.7L328.2,245.8Z" fill="#ff0a0a"/><path d="M337.0,269.6L339.9,270.6L342.8,269.6L341.8,272.5L342.8,275.4L339.9,274.4L337.0,275.4L338.0,272.5Z" fill="#ff0a0a"/><path d="M340.3,252.7L343.2,253.7L346.1,252.7L345.1,255.6L346.1,258.5L343.2,257.5L340.3,258.5L341.3,255.6Z" fill="#ff0a0a"/><path d="M346.8,269.6L349.7,270.6L352.6,269.6L351.6,272.5L352.6,275.4L349.7,274.4L346.8,275.4L347.8,272.5Z" fill="#ff0a0a"/><path d="M353.4,242.9L356.3,243.9L359.2,242.9L358.2,245.8L359.2,248.7L356.3,247.7L353.4,248.7L354.4,245.8Z" fill="#ff0a0a"/><path d="M356.6,269.6L359.5,270.6L362.4,269.6L361.4,272.5L362.4,275.4L359.5,274.4L356.6,275.4L357.6,272.5Z" fill="#ff0a0a"/><path d="M366.4,269.6L369.3,270.6L372.2,269.6L371.2,272.5L372.2,275.4L369.3,274.4L366.4,275.4L367.4,272.5Z" fill="#ff0a0a"/><path d="M369.7,230.5L372.6,231.5L375.5,230.5L374.5,233.4L375.5,236.3L372.6,235.3L369.7,236.3L370.7,233.4Z" fill="#ff0a0a"/><path d="M373.0,202.2L375.9,203.2L378.8,202.2L377.8,205.1L378.8,208.0L375.9,207.0L373.0,208.0L374.0,205.1Z" fill="#ff0a0a"/><path d="M376.2,187.7L379.1,188.7L382.0,187.7L381.0,190.6L382.0,193.5L379.1,192.5L376.2,193.5L377.2,190.6Z" fill="#ff0a0a"/><path d="M379.5,176.0L382.4,177.0L385.3,176.0L384.3,178.9L385.3,181.8L382.4,180.8L379.5,181.8L380.5,178.9Z" fill="#ff0a0a"/><path d="M382.8,185.3L385.7,186.3L388.6,185.3L387.6,188.2L388.6,191.1L385.7,190.1L382.8,191.1L383.8,188.2Z" fill="#ff0a0a"/><path d="M386.0,186.9L388.9,187.9L391.8,186.9L390.8,189.8L391.8,192.7L388.9,191.7L386.0,192.7L387.0,189.8Z" fill="#ff0a0a"/><path d="M389.3,184.6L392.2,185.6L395.1,184.6L394.1,187.5L395.1,190.4L392.2,189.4L389.3,190.4L390.3,187.5Z" fill="#ff0a0a"/><path d="M392.6,194.4L395.5,195.4L398.4,194.4L397.4,197.3L398.4,200.2L395.5,199.2L392.6,200.2L393.6,197.3Z" fill="#ff0a0a"/><path d="M395.9,191.3L398.8,192.3L401.6,191.3L400.6,194.2L401.6,197.1L398.8,196.1L395.9,197.1L396.9,194.2Z" fill="#ff0a0a"/><path d="M399.1,190.4L402.0,191.4L404.9,190.4L403.9,193.3L404.9,196.2L402.0,195.2L399.1,196.2L400.1,193.3Z" fill="#ff0a0a"/><path d="M402.4,189.4L405.3,190.4L408.2,189.4L407.2,192.3L408.2,195.2L405.3,194.2L402.4,195.2L403.4,192.3Z" fill="#ff0a0a"/><path d="M405.7,190.4L408.6,191.4L411.5,190.4L410.5,193.3L411.5,196.2L408.6,195.2L405.7,196.2L406.7,193.3Z" fill="#ff0a0a"/><path d="M408.9,186.1L411.8,187.1L414.7,186.1L413.7,189.0L414.7,191.9L411.8,190.9L408.9,191.9L409.9,189.0Z" fill="#ff0a0a"/><path d="M412.2,186.1L415.1,187.1L418.0,186.1L417.0,189.0L418.0,191.9L415.1,190.9L412.2,191.9L413.2,189.0Z" fill="#ff0a0a"/><path d="M415.5,186.1L418.4,187.1L421.3,186.1L420.3,189.0L421.3,191.9L418.4,190.9L415.5,191.9L416.5,189.0Z" fill="#ff0a0a"/><path d="M418.7,186.1L421.6,187.1L424.5,186.1L423.5,189.0L424.5,191.9L421.6,190.9L418.7,191.9L419.7,189.0Z" fill="#ff0a0a"/><path d="M422.0,160.4L424.9,161.4L427.8,160.4L426.8,163.3L427.8,166.2L424.9,165.2L422.0,166.2L423.0,163.3Z" fill="#ff0a0a"/><path d="M425.3,152.0L428.2,153.0L431.1,152.0L430.1,154.9L431.1,157.8L428.2,156.8L425.3,157.8L426.3,154.9Z" fill="#ff0a0a"/><path d="M428.5,147.9L431.4,148.9L434.3,147.9L433.3,150.8L434.3,153.7L431.4,152.7L428.5,153.7L429.5,150.8Z" fill="#ff0a0a"/><path d="M431.8,144.6L434.7,145.6L437.6,144.6L436.6,147.5L437.6,150.4L434.7,149.4L431.8,150.4L432.8,147.5Z" fill="#ff0a0a"/><path d="M435.1,144.6L438.0,145.6L440.9,144.6L439.9,147.5L440.9,150.4L438.0,149.4L435.1,150.4L436.1,147.5Z" fill="#ff0a0a"/><path d="M438.3,143.7L441.2,144.7L444.1,143.7L443.1,146.6L444.1,149.5L441.2,148.5L438.3,149.5L439.3,146.6Z" fill="#ff0a0a"/><path d="M441.6,138.6L444.5,139.6L447.4,138.6L446.4,141.5L447.4,144.4L444.5,143.4L441.6,144.4L442.6,141.5Z" fill="#ff0a0a"/><path d="M444.9,132.0L447.8,133.0L450.7,132.0L449.7,134.9L450.7,137.8L447.8,136.8L444.9,137.8L445.9,134.9Z" fill="#ff0a0a"/><path d="M448.1,136.2L451.0,137.2L453.9,136.2L452.9,139.1L453.9,142.0L451.0,141.0L448.1,142.0L449.1,139.1Z" fill="#ff0a0a"/><path d="M451.4,134.5L454.3,135.5L457.2,134.5L456.2,137.4L457.2,140.3L454.3,139.3L451.4,140.3L452.4,137.4Z" fill="#ff0a0a"/><path d="M454.7,135.3L457.6,136.3L460.5,135.3L459.5,138.2L460.5,141.1L457.6,140.1L454.7,141.1L455.7,138.2Z" fill="#ff0a0a"/><path d="M457.9,134.5L460.8,135.5L463.7,134.5L462.7,137.4L463.7,140.3L460.8,139.3L457.9,140.3L458.9,137.4Z" fill="#ff0a0a"/><path d="M461.2,132.8L464.1,133.8L467.0,132.8L466.0,135.7L467.0,138.6L464.1,137.6L461.2,138.6L462.2,135.7Z" fill="#ff0a0a"/><path d="M464.5,137.3L467.4,138.3L470.3,137.3L469.3,140.2L470.3,143.1L467.4,142.1L464.5,143.1L465.5,140.2Z" fill="#ff0a0a"/><path d="M467.7,137.6L470.6,138.6L473.5,137.6L472.5,140.5L473.5,143.4L470.6,142.4L467.7,143.4L468.7,140.5Z" fill="#ff0a0a"/><path d="M471.0,137.8L473.9,138.8L476.8,137.8L475.8,140.7L476.8,143.6L473.9,142.6L471.0,143.6L472.0,140.7Z" fill="#ff0a0a"/><path d="M474.3,132.8L477.2,133.8L480.1,132.8L479.1,135.7L480.1,138.6L477.2,137.6L474.3,138.6L475.3,135.7Z" fill="#ff0a0a"/><path d="M477.5,137.9L480.4,138.9L483.3,137.9L482.3,140.8L483.3,143.7L480.4,142.7L477.5,143.7L478.5,140.8Z" fill="#ff0a0a"/><path d="M480.8,145.7L483.7,146.7L486.6,145.7L485.6,148.6L486.6,151.5L483.7,150.5L480.8,151.5L481.8,148.6Z" fill="#ff0a0a"/><path d="M484.1,147.9L487.0,148.9L489.9,147.9L488.9,150.8L489.9,153.7L487.0,152.7L484.1,153.7L485.1,150.8Z" fill="#ff0a0a"/><path d="M487.3,152.2L490.2,153.2L493.1,152.2L492.1,155.1L493.1,158.0L490.2,157.0L487.3,158.0L488.3,155.1Z" fill="#ff0a0a"/><path d="M490.6,148.9L493.5,149.9L496.4,148.9L495.4,151.8L496.4,154.7L493.5,153.7L490.6,154.7L491.6,151.8Z" fill="#ff0a0a"/><path d="M493.9,153.0L496.8,154.0L499.7,153.0L498.7,155.9L499.7,158.8L496.8,157.8L493.9,158.8L494.9,155.9Z" fill="#ff0a0a"/><path d="M497.1,153.8L500.0,154.8L502.9,153.8L501.9,156.7L502.9,159.6L500.0,158.6L497.1,159.6L498.1,156.7Z" fill="#ff0a0a"/><path d="M500.4,152.2L503.3,153.2L506.2,152.2L505.2,155.1L506.2,158.0L503.3,157.0L500.4,158.0L501.4,155.1Z" fill="#ff0a0a"/><path d="M503.7,148.9L506.6,149.9L509.5,148.9L508.5,151.8L509.5,154.7L506.6,153.7L503.7,154.7L504.7,151.8Z" fill="#ff0a0a"/><path d="M506.9,150.5L509.8,151.5L512.7,150.5L511.7,153.4L512.7,156.3L509.8,155.3L506.9,156.3L507.9,153.4Z" fill="#ff0a0a"/><path d="M510.2,155.5L513.1,156.5L516.0,155.5L515.0,158.4L516.0,161.3L513.1,160.3L510.2,161.3L511.2,158.4Z" fill="#ff0a0a"/><path d="M513.5,161.3L516.4,162.3L519.3,161.3L518.3,164.2L519.3,167.1L516.4,166.1L513.5,167.1L514.5,164.2Z" fill="#ff0a0a"/><path d="M516.7,164.6L519.6,165.6L522.5,164.6L521.5,167.5L522.5,170.4L519.6,169.4L516.7,170.4L517.7,167.5Z" fill="#ff0a0a"/><path d="M520.0,159.6L522.9,160.6L525.8,159.6L524.8,162.5L525.8,165.4L522.9,164.4L520.0,165.4L521.0,162.5Z" fill="#ff0a0a"/><path d="M523.3,154.6L526.2,155.6L529.1,154.6L528.1,157.5L529.1,160.4L526.2,159.4L523.3,160.4L524.3,157.5Z" fill="#ff0a0a"/><path d="M526.6,157.1L529.5,158.1L532.4,157.1L531.4,160.0L532.4,162.9L529.5,161.9L526.6,162.9L527.6,160.0Z" fill="#ff0a0a"/><path d="M529.8,157.1L532.7,158.1L535.6,157.1L534.6,160.0L535.6,162.9L532.7,161.9L529.8,162.9L530.8,160.0Z" fill="#ff0a0a"/>
</g>
<g font-size="12.2">
<path d="M96.2,21.7H119.3" stroke="#dc4c54" stroke-width="1.3"/><rect x="104.6" y="18.5" width="6.4" height="6.4" fill="none" stroke="#dc2832" stroke-width="1.2"/><text x="124.4" y="25.7" fill="#111" stroke="#111" stroke-width="0.15" stroke-linejoin="round">HIV</text>
<path d="M96.2,35.4H119.3" stroke="#14aadc" stroke-width="1.3"/><path d="M107.8,30.4L112.1,38.8L103.5,38.8Z" fill="#08a2e8"/><text x="124.4" y="39.4" fill="#111" stroke="#111" stroke-width="0.15" stroke-linejoin="round">Smallpox</text>
<path d="M96.2,49.0H119.3" stroke="#e43a3e" stroke-width="1.3"/><path d="M104.9,46.1L107.8,47.1L110.7,46.1L109.7,49.0L110.7,51.9L107.8,50.9L104.9,51.9L105.9,49.0Z" fill="#ff0a0a"/><text x="124.4" y="53.0" fill="#111" stroke="#111" stroke-width="0.15" stroke-linejoin="round">Chlorofluorocarbon</text>
<path d="M96.2,62.7H119.3" stroke="#3c50c0" stroke-width="1.3"/><circle cx="107.8" cy="62.7" r="3.3" fill="none" stroke="#2a22b4" stroke-width="1.3"/><text x="124.4" y="66.7" fill="#111" stroke="#111" stroke-width="0.15" stroke-linejoin="round">Climate Change</text>
<path d="M96.2,76.4H119.3" stroke="#14c846" stroke-width="1.3"/><circle cx="107.8" cy="76.4" r="4.1" fill="#00c81e"/><text x="124.4" y="80.4" fill="#111" stroke="#111" stroke-width="0.15" stroke-linejoin="round">Photocatalysis</text>
<path d="M96.2,90.0H119.3" stroke="#14c846" stroke-width="1.3"/><circle cx="107.8" cy="90.0" r="2.9" fill="none" stroke="#00c040" stroke-width="1.3"/><text x="124.4" y="94.0" fill="#111" stroke="#111" stroke-width="0.15" stroke-linejoin="round">Photocatalysis AND Semiconductor</text>
<path d="M96.2,103.7H119.3" stroke="#14c846" stroke-width="1.3"/><path d="M104.8,100.7L110.8,106.7M104.8,106.7L110.8,100.7" stroke="#00c040" stroke-width="1.45" fill="none"/><text x="124.4" y="107.7" fill="#111" stroke="#111" stroke-width="0.15" stroke-linejoin="round">Semiconductor Photocatalysis</text>
</g>
</svg>
</body></html>
